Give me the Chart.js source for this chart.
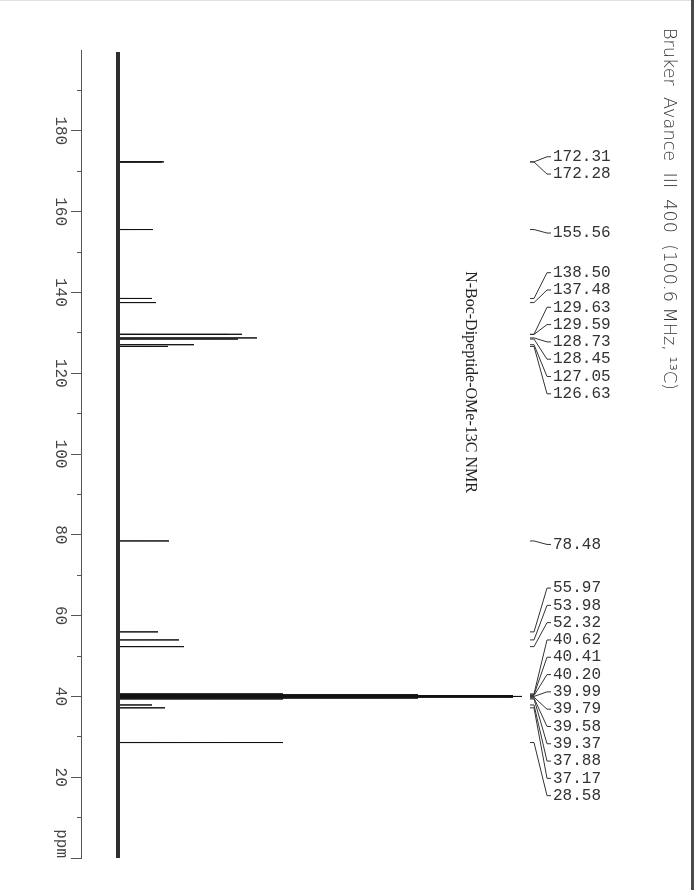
<!DOCTYPE html>
<html lang="en">
<head>
<meta charset="UTF-8">
<title>N-Boc-Dipeptide-OMe 13C NMR</title>
<script src="https://cdn.jsdelivr.net/npm/chart.js"></script>
<style>
  html, body { margin: 0; padding: 0; background: #fff; }
  #wrap { width: 694px; height: 890px; }
</style>
</head>
<body>
<div id="wrap"><canvas id="nmr" width="694" height="890"></canvas></div>
<script>
// peak list (ppm) as printed, and peak heights
const peakPpm = [172.31, 172.28, 155.56, 138.50, 137.48, 129.63, 129.59, 128.73, 128.45,
                 127.05, 126.63, 78.48, 55.97, 53.98, 52.32, 40.62, 40.41, 40.20, 39.99,
                 39.79, 39.58, 39.37, 37.88, 37.17, 28.58];
const peakHeight = [46, 44, 35, 34, 38, 124, 110, 139, 120, 76, 50, 51, 40, 61, 66,
                    165, 300, 395, 404, 395, 300, 165, 34, 47, 165];
const ppmTicks = [180, 160, 140, 120, 100, 80, 60, 40, 20];
const ppmRange = [0, 200];
const spectrumEnds = [199.5, 0];
const titleText = 'N-Boc-Dipeptide-OMe-13C NMR';
const noteText = 'Bruker  Avance  III  400  (100.6 MHz, \u00b9\u00b3C)';

// build the stick spectrum from the peak list
const spectrum = [{ x: 0, y: spectrumEnds[0] }];
peakPpm.forEach((p, i) => {
    spectrum.push({ x: 0, y: p + 0.02 }, { x: peakHeight[i], y: p }, { x: 0, y: p - 0.02 });
});
spectrum.push({ x: 0, y: spectrumEnds[1] });

// push overlapping labels apart, keeping each cluster centred on its peaks
function spreadLabels(ys, gap) {
    let groups = ys.map(y => ({ sum: y, n: 1 }));
    let merged = true;
    while (merged) {
        merged = false;
        for (let i = 0; i < groups.length - 1; i++) {
            const a = groups[i], b = groups[i + 1];
            const aEnd = a.sum / a.n + (a.n - 1) * gap / 2;
            const bStart = b.sum / b.n - (b.n - 1) * gap / 2;
            if (bStart - aEnd < gap) {
                groups.splice(i, 2, { sum: a.sum + b.sum, n: a.n + b.n });
                merged = true;
                break;
            }
        }
    }
    const out = [];
    groups.forEach(g => {
        const top = g.sum / g.n - (g.n - 1) * gap / 2;
        for (let k = 0; k < g.n; k++) out.push(top + k * gap);
    });
    return out;
}

function rotText(ctx, text, x, y, align) {
    ctx.save();
    ctx.translate(x, y);
    ctx.rotate(Math.PI / 2);
    ctx.textAlign = align;
    ctx.textBaseline = 'middle';
    ctx.fillText(text, 0, 0);
    ctx.restore();
}

const decor = {
    id: 'decor',
    afterDraw(chart) {
        const ctx = chart.ctx;
        const ys = chart.scales.y;
        ctx.save();

        // peak list with connectors
        const peakY = peakPpm.map(p => ys.getPixelForValue(p));
        const labelY = spreadLabels(peakY.map(y => y + 3.5), 17.3);
        ctx.strokeStyle = '#333';
        ctx.lineWidth = 1;
        peakY.forEach((py, i) => {
            const ly = labelY[i];
            ctx.beginPath();
            ctx.moveTo(530, py);
            ctx.lineTo(534, py);
            ctx.lineTo(547, ly);
            ctx.lineTo(551, ly);
            ctx.stroke();
        });
        ctx.fillStyle = '#333';
        ctx.font = '16px "Liberation Mono", monospace';
        ctx.textAlign = 'left';
        ctx.textBaseline = 'middle';
        peakPpm.forEach((p, i) => ctx.fillText(p.toFixed(2), 553, labelY[i]));

        // axis unit
        ctx.fillStyle = '#444';
        rotText(ctx, 'ppm', 61, ys.getPixelForValue(0), 'right');

        // sample name
        ctx.fillStyle = '#222';
        ctx.font = '16px "Liberation Serif", serif';
        rotText(ctx, titleText, 470, 382, 'center');

        // handwritten note
        ctx.fillStyle = '#333';
        ctx.font = '300 17px "DejaVu Sans", sans-serif';
        ctx.save();
        ctx.translate(668, 28);
        ctx.rotate(Math.PI / 2);
        const w = ctx.measureText(noteText).width;
        ctx.scale(362 / w, 1);
        ctx.textAlign = 'left';
        ctx.textBaseline = 'middle';
        ctx.fillText(noteText, 0, 0);
        ctx.restore();

        // scan frame
        ctx.fillStyle = '#4a4a4a';
        ctx.fillRect(691, 0, 3, chart.height);
        ctx.fillStyle = '#e2e2e2';
        ctx.fillRect(0, 0, 691, 1);
        ctx.restore();
    }
};

new Chart(document.getElementById('nmr'), {
    type: 'scatter',
    data: {
        datasets: [
            {
                label: 'noise',
                data: [{ x: 0, y: spectrumEnds[0] }, { x: 0, y: spectrumEnds[1] }],
                showLine: true,
                borderColor: '#2e2e2e',
                borderWidth: 4,
                pointRadius: 0
            },
            {
                label: 'spectrum',
                data: spectrum,
                showLine: true,
                borderColor: '#111',
                borderWidth: 1,
                pointRadius: 0,
                tension: 0
            }
        ]
    },
    options: {
        responsive: false,
        animation: false,
        layout: { padding: { top: 50, bottom: 32, left: 0, right: 4 } },
        plugins: { legend: { display: false }, tooltip: { enabled: false } },
        scales: {
            x: { type: 'linear', min: -37, max: 572, display: false },
            y: {
                type: 'linear',
                position: 'left',
                min: ppmRange[0],
                max: ppmRange[1],
                afterFit(scale) { scale.width = 81; },
                ticks: {
                    stepSize: 10,
                    autoSkip: false,
                    minRotation: -90,
                    maxRotation: -90,
                    crossAlign: 'center',
                    padding: -4,
                    color: '#444',
                    font: { family: 'Liberation Mono', size: 16 },
                    callback: v => ppmTicks.includes(v) ? String(v) : ''
                },
                grid: {
                    drawOnChartArea: false,
                    tickLength: 10,
                    tickColor: c => (c.tick && c.tick.value === 200) ? 'rgba(0,0,0,0)' : '#555',
                    tickBorderDash: c => (c.tick && c.tick.value % 20 === 0) ? [] : [0, 6, 4, 100]
                },
                border: { color: '#555', width: 1 }
            }
        }
    },
    plugins: [decor]
});
</script>
</body>
</html>
